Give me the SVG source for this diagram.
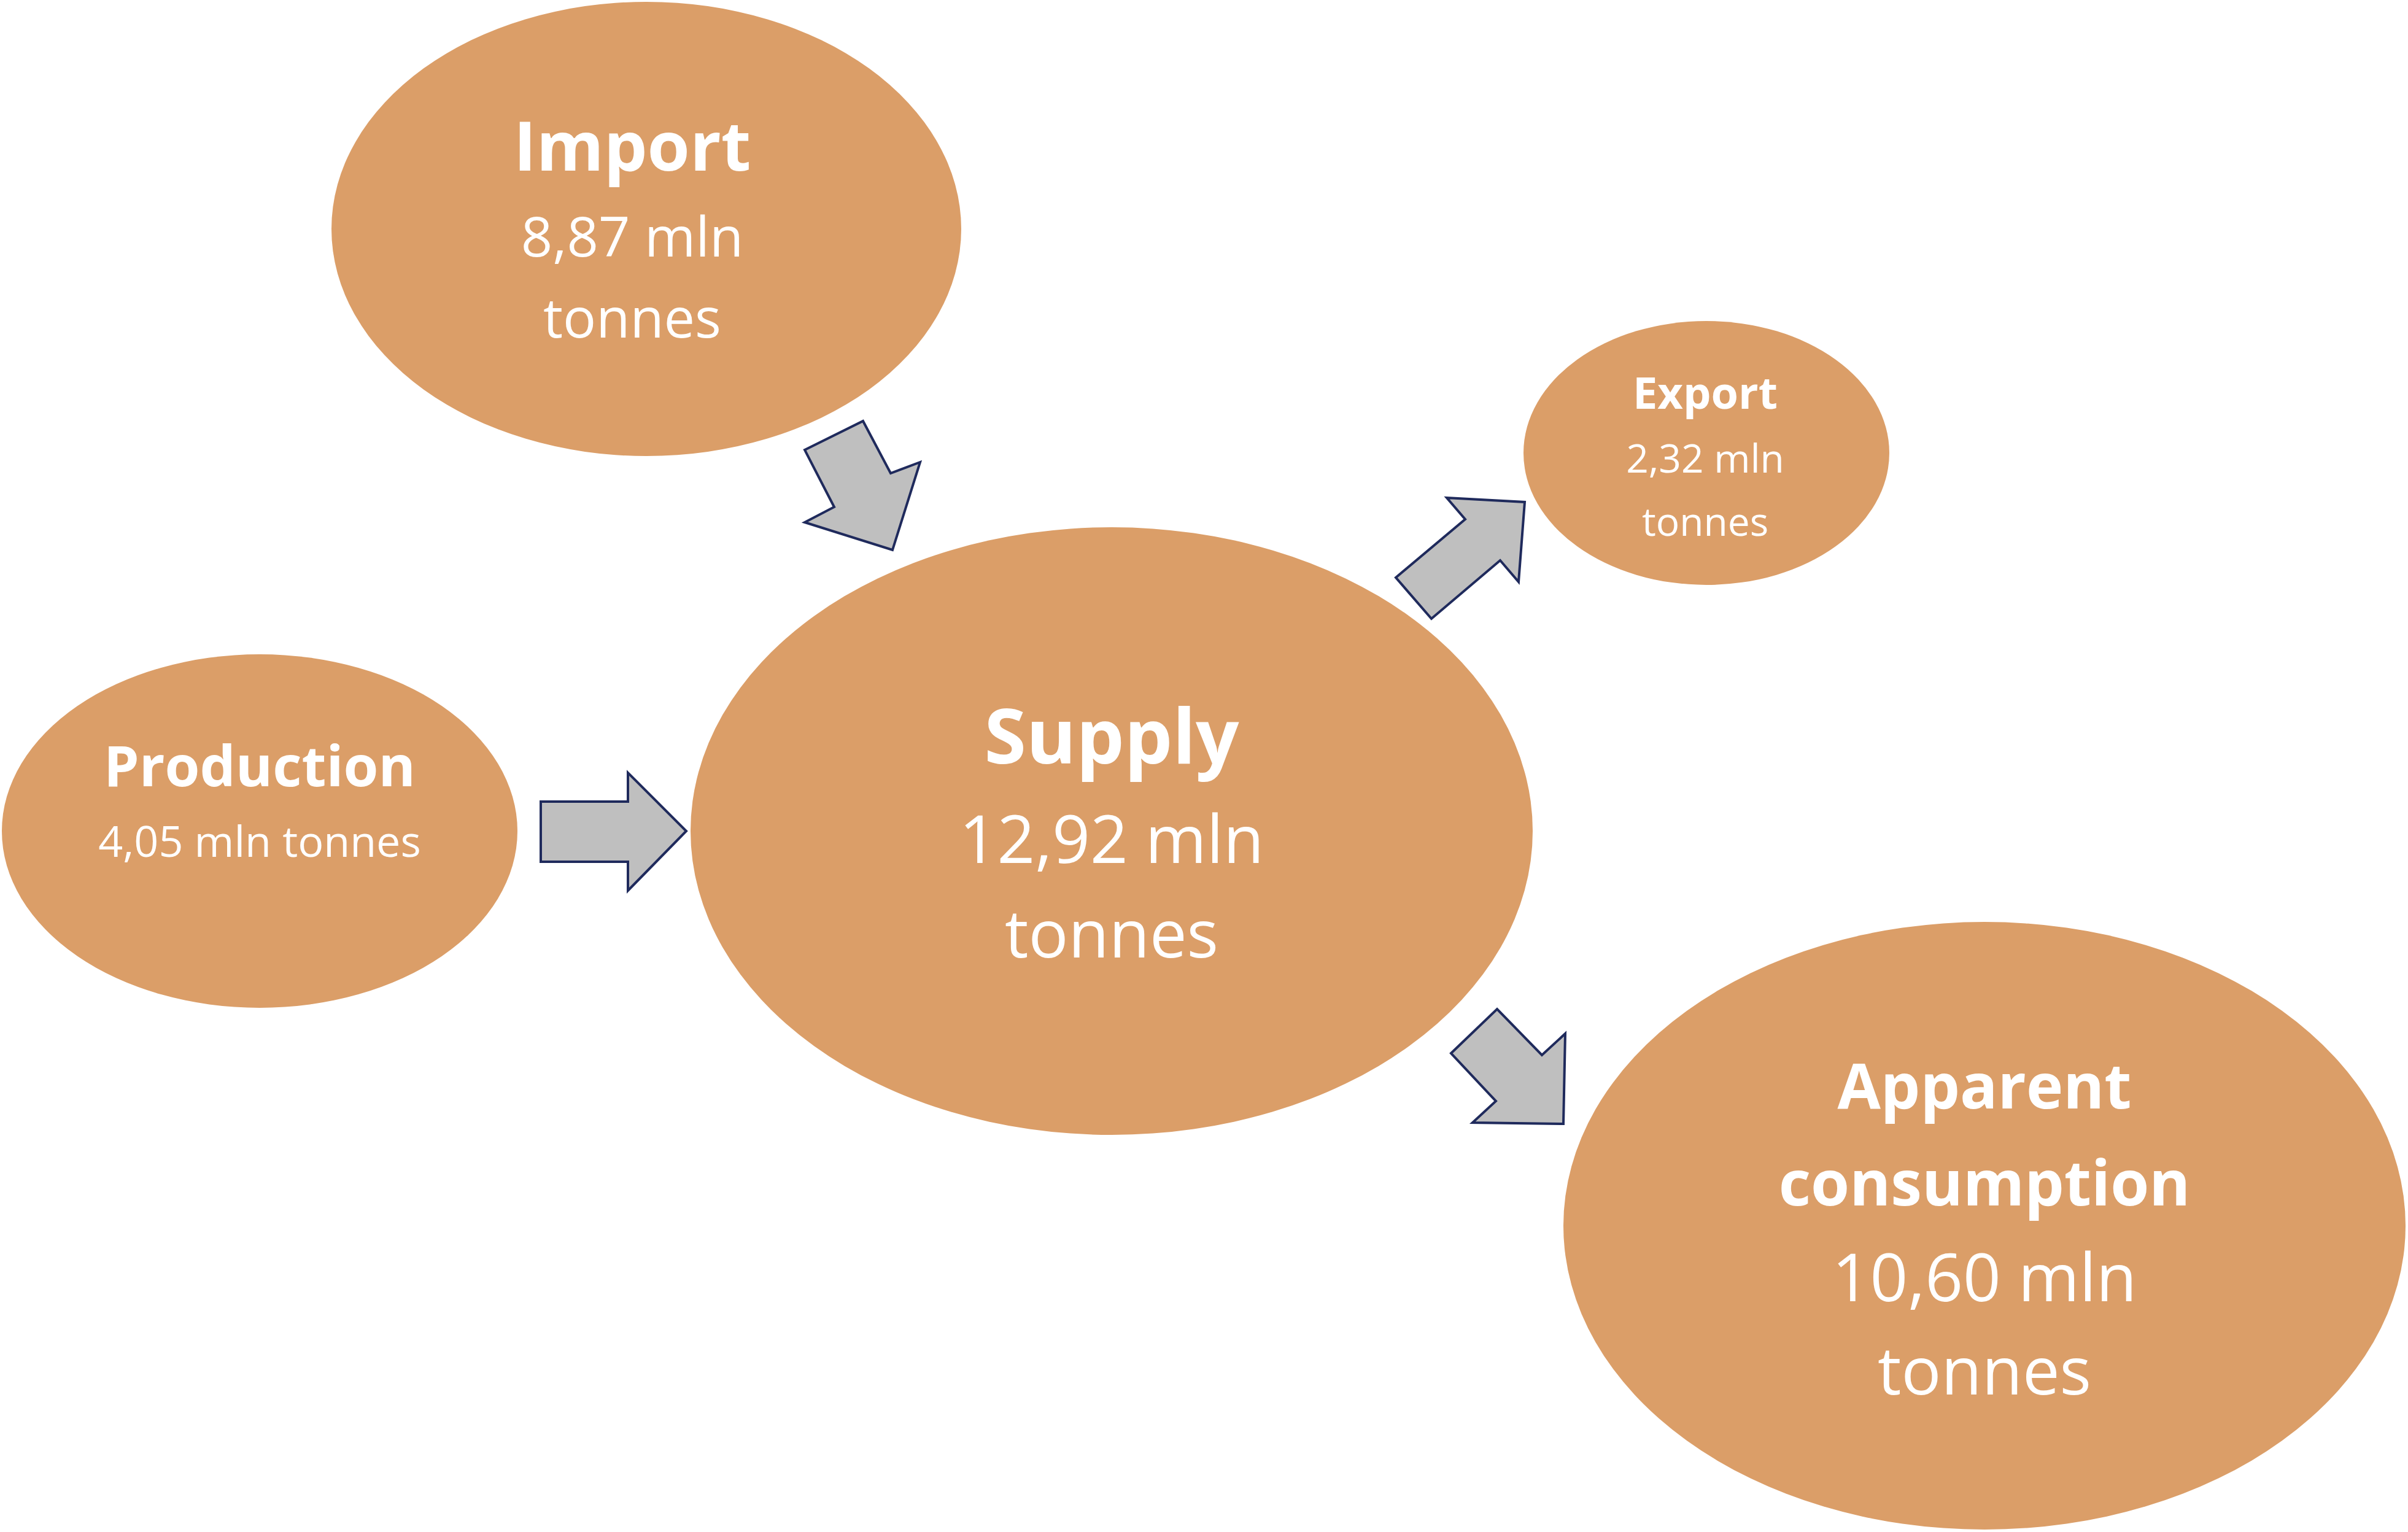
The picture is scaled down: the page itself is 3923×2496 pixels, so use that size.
<svg xmlns="http://www.w3.org/2000/svg" width="3923" height="2496" viewBox="0 0 3923 2496">
<style>
.n{fill:#DB9E68}
.t{fill:#fff;font-family:"Open Sans","Liberation Sans",sans-serif;text-anchor:middle}
.b{font-weight:bold}
.a{fill:#BFBFBF;stroke:#1F2A5C;stroke-width:4;stroke-linejoin:miter}
</style>
<rect width="3923" height="2496" fill="#fff"/>
<g id="import"><ellipse class="n" cx="1053" cy="373" rx="513" ry="370"/>
<text class="t b" x="1030" y="278" font-size="112">Import</text>
<text class="t" x="1030" y="418" font-size="90">8,87 mln</text>
<text class="t" x="1030" y="550" font-size="90">tonnes</text></g>
<g id="export"><ellipse class="n" cx="2780" cy="738" rx="298" ry="215"/>
<text class="t b" x="2778" y="666" font-size="72">Export</text>
<text class="t" x="2778" y="770" font-size="64">2,32 mln</text>
<text class="t" x="2778" y="873" font-size="64">tonnes</text></g>
<g id="production"><ellipse class="n" cx="423" cy="1354" rx="420" ry="288"/>
<text class="t b" x="423" y="1281" font-size="92">Production</text>
<text class="t" x="423" y="1396" font-size="70">4,05 mln tonnes</text></g>
<g id="supply"><ellipse class="n" cx="1811" cy="1354" rx="686" ry="495"/>
<text class="t b" x="1811" y="1244" font-size="124">Supply</text>
<text class="t" x="1811" y="1406" font-size="108">12,92 mln</text>
<text class="t" x="1811" y="1560" font-size="108">tonnes</text></g>
<g id="consumption"><ellipse class="n" cx="3233" cy="1997" rx="686" ry="495"/>
<text class="t b" x="3233" y="1806" font-size="102">Apparent</text>
<text class="t b" x="3233" y="1964" font-size="102">consumption</text>
<text class="t" x="3233" y="2120" font-size="108">10,60 mln</text>
<text class="t" x="3233" y="2272" font-size="108">tonnes</text></g>
<g id="connectors">
<polygon class="a" points="1311,733 1406,686 1451,771 1499,753 1454,896 1311,851 1359,826"/>
<polygon class="a" points="881,1306 1023,1306 1023,1259 1118,1354 1023,1451 1023,1404 881,1404"/>
<polygon class="a" points="2274,941 2387,846 2357,811 2484,818 2474,948 2444,913 2332,1008"/>
<polygon class="a" points="2364,1716 2439,1644 2512,1719 2550,1684 2547,1831 2399,1829 2437,1794"/>
</g>
</svg>
